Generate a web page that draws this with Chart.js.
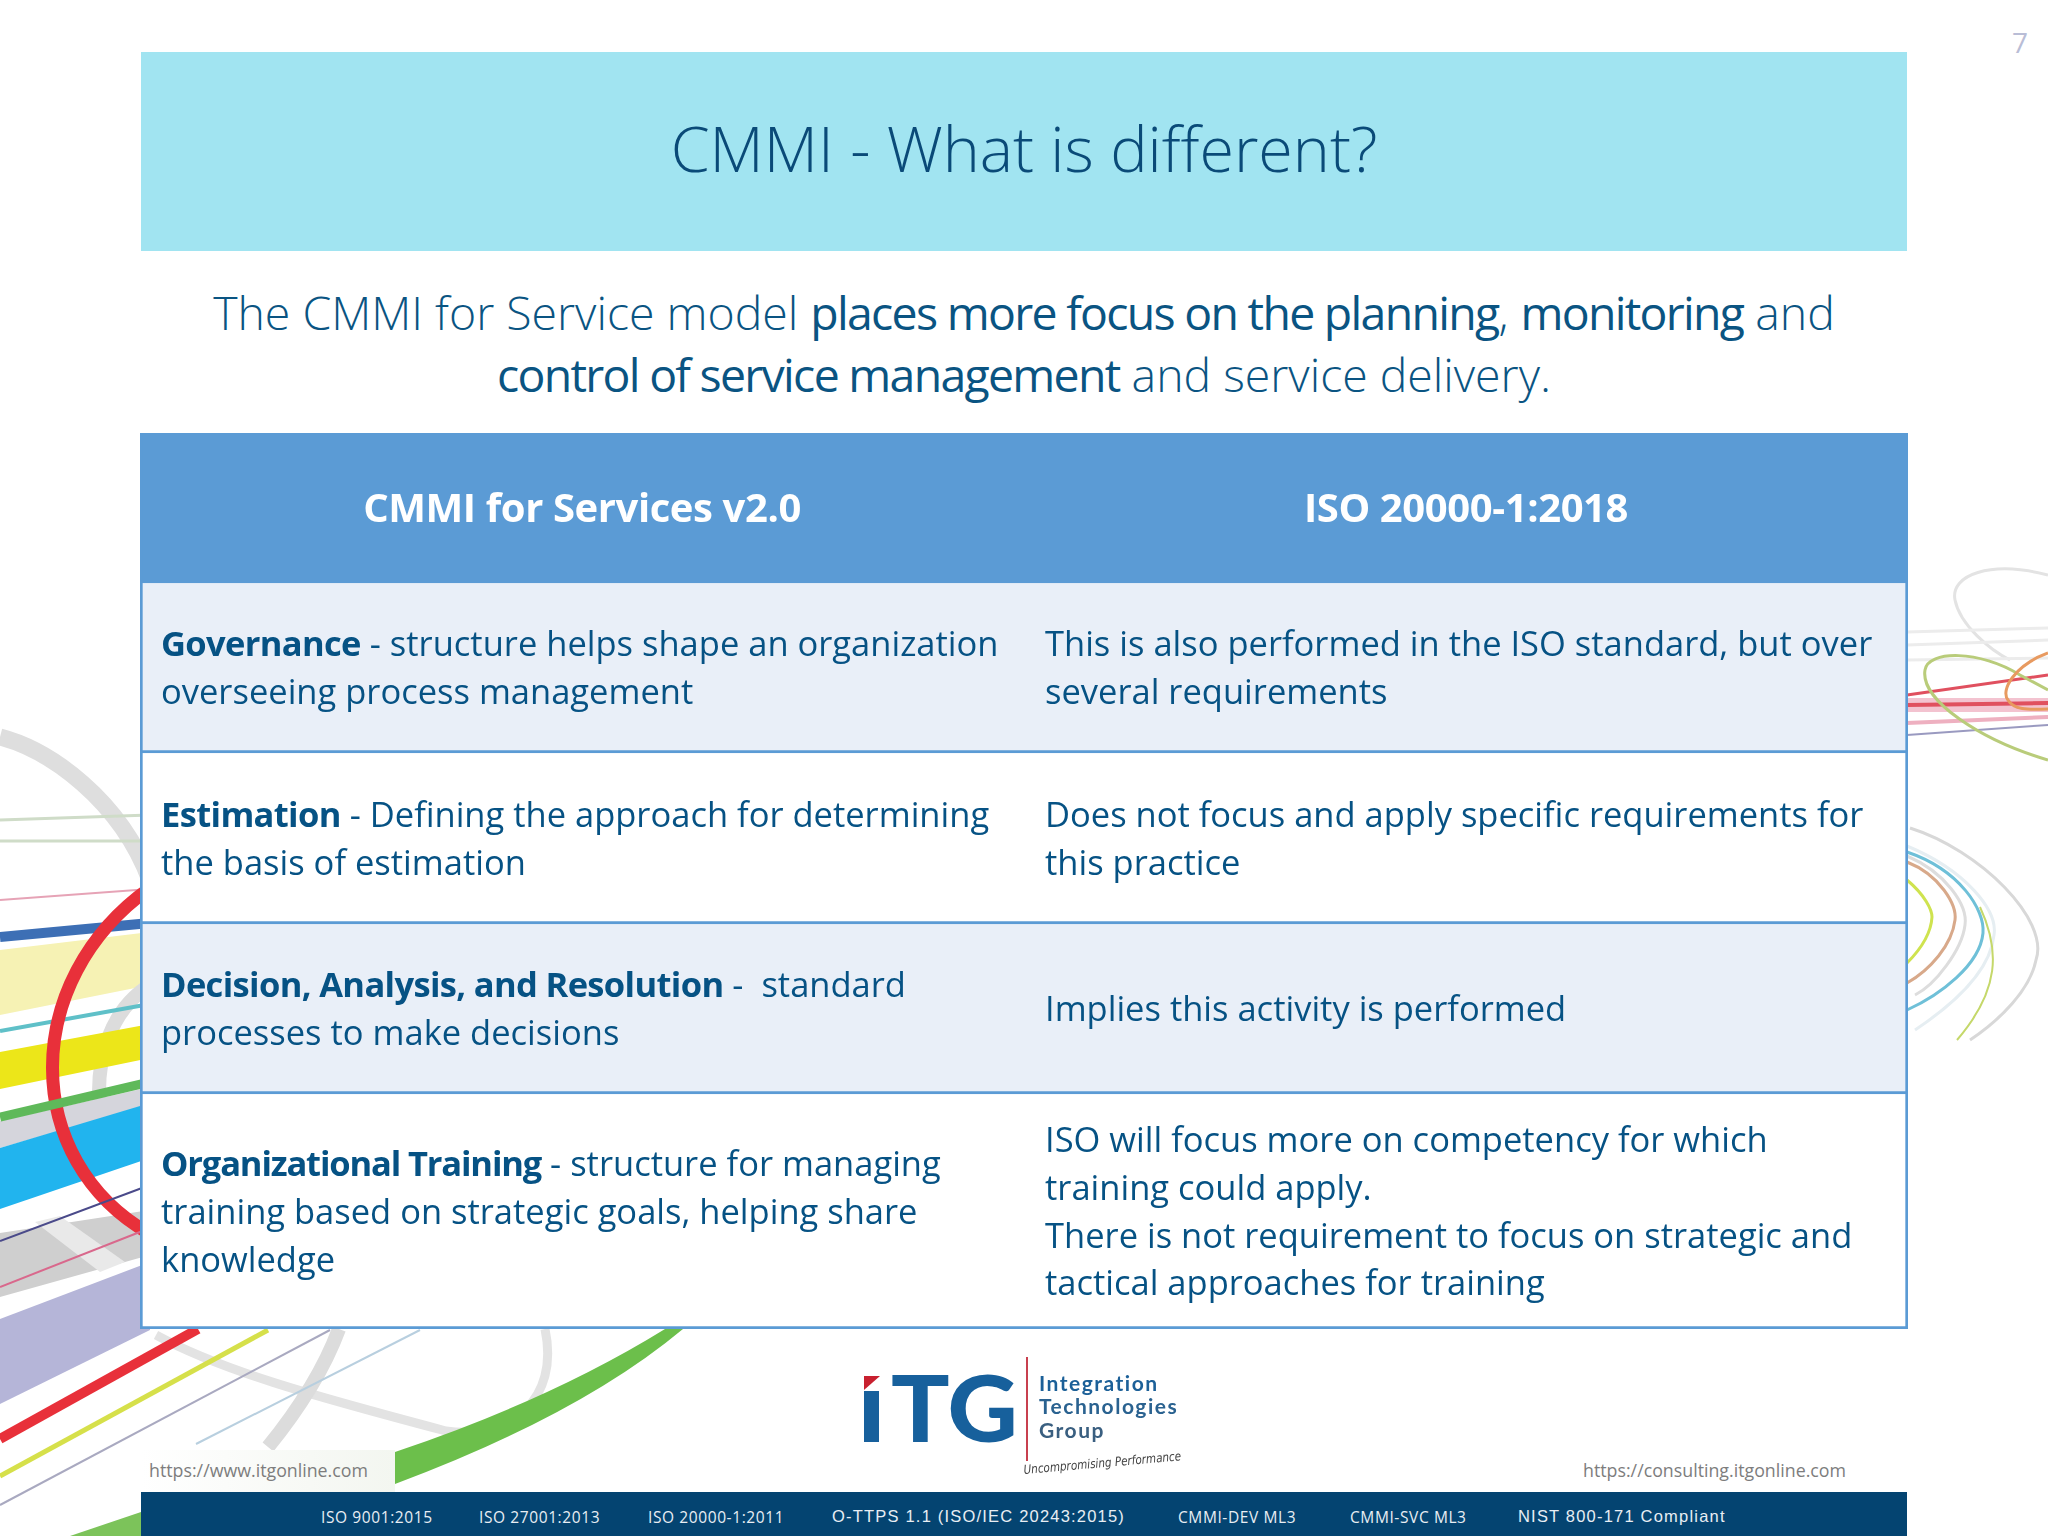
<!DOCTYPE html>
<html>
<head>
<meta charset="utf-8">
<title>CMMI - What is different?</title>
<script src="https://cdn.jsdelivr.net/npm/chart.js@4"></script>
<style>
  html, body { margin: 0; padding: 0; background: #fff; }
  #slide { position: relative; width: 2048px; height: 1536px; overflow: hidden; font-family: "Open Sans", sans-serif; background: #fff; }
  #slide > * { position: absolute; }
  #art { left: 0; top: 0; filter: blur(0.7px); }
  #band { left: 141px; top: 52px; width: 1766px; height: 199px; background: #a1e4f1; }
  #title { left: 141px; width: 1766px; top: 107px; text-align: center; font-size: 62.8px; line-height: 82px; color: #0a4a78; font-weight: 300; }
  #pageno { left: 2012px; top: 23px; font-size: 28px; color: #b9bdd6; }
  .intro { left: 0; width: 2048px; text-align: center; font-size: 46.4px; line-height: 60px; color: #0a5482; font-weight: 300; white-space: nowrap; }
  .intro b { font-weight: 500; letter-spacing: -1.7px; }
  #tableWrap { left: 140px; top: 433px; width: 1768px; height: 896px; }
  .url { top: 1458px; font-size: 17.8px; line-height: 24px; color: #7d7d7d; }
  #footer { left: 141px; top: 1492px; width: 1766px; height: 44px; background: #044471; }
  .cert { top: 1506px; line-height: 22px; color: #e8eef4; white-space: nowrap; font-size: 15.5px; letter-spacing: 0.6px; }
  .cert.wide { font-family: "Liberation Sans", sans-serif; font-size: 16.5px; letter-spacing: 1.2px; top: 1505px; }
</style>
</head>
<body>
<div id="slide">
  <svg id="art" width="2048" height="1536" viewBox="0 0 2048 1536" fill="none">
    <defs>
      <linearGradient id="urlFade" x1="0" x2="1" y1="0" y2="0">
        <stop offset="0" stop-color="#ffffff"/>
        <stop offset="1" stop-color="#f3f6f0"/>
      </linearGradient>
    </defs>
    <!-- left swirl, sits behind the table -->
    <path d="M0 737 C50 750 120 800 150 880" stroke="#dedede" stroke-width="17"/>
    <polygon points="0,950 150,932 150,985 0,1015" fill="#f6f2b4"/>
    <path d="M150 985 C110 1010 95 1060 100 1110" stroke="#dcdcdc" stroke-width="14"/>
    <polygon points="0,1052 150,1024 150,1058 0,1089" fill="#ece619"/>
    <polygon points="0,1121 150,1087 150,1105 0,1148" fill="#d5d5dc"/>
    <polygon points="0,1148 150,1103 150,1158 0,1209" fill="#21b4ee"/>
    <polygon points="0,1233 150,1210 150,1255 0,1297" fill="#cfcfcf"/>
    <polygon points="35,1222 60,1216 125,1262 100,1272" fill="#e9e9e9"/>
    <polygon points="0,1319 150,1262 150,1330 0,1404" fill="#b5b5d8"/>
    <path d="M0 820 L150 815 M0 841 L150 841" stroke="#cfdcc8" stroke-width="3"/>
    <path d="M0 900 L150 889" stroke="#e6a3b6" stroke-width="2"/>
    <path d="M0 1031 L150 1004" stroke="#5fc0c8" stroke-width="4"/>
    <path d="M0 937 L150 923" stroke="#3d6fb5" stroke-width="10"/>
    <path d="M150 888 C20 980 20 1160 150 1234" stroke="#e8303a" stroke-width="13"/>
    <path d="M0 1117 L150 1082" stroke="#5fb95a" stroke-width="9"/>
    <path d="M0 1241 L150 1185" stroke="#4a4a8a" stroke-width="2"/>
    <path d="M0 1287 L150 1228" stroke="#d9688c" stroke-width="2"/>
    <!-- below the table -->
    <path d="M156 1335 C220 1370 310 1395 446 1431 C510 1440 560 1400 545 1329" stroke="#e3e3e3" stroke-width="9"/>
    <path d="M339 1329 C320 1380 290 1420 268 1447" stroke="#dcdcdc" stroke-width="14"/>
    <path d="M0 1439 L198 1329" stroke="#e8303a" stroke-width="10"/>
    <path d="M0 1476 L268 1330" stroke="#d6e04a" stroke-width="5"/>
    <path d="M0 1505 L330 1330" stroke="#a9a9c0" stroke-width="2"/>
    <path d="M196 1444 L420 1330" stroke="#b8cfdf" stroke-width="2"/>
    <rect x="141" y="1450" width="254" height="42" fill="url(#urlFade)"/>
    <path d="M395 1452 Q550 1400 665 1329 L683 1329 Q580 1415 395 1484 Z" fill="#6cbf4b"/>
    <polygon points="70,1536 141,1512 141,1536" fill="#7cc35a"/>
    <!-- right swirl -->
    <path d="M2048 575 C1990 560 1950 575 1955 600 C1960 625 1990 650 2010 660" stroke="#e3e3e3" stroke-width="3"/>
    <path d="M1907 632 L2048 628 M1907 645 L2048 640 M1907 660 L2048 658" stroke="#ececec" stroke-width="3"/>
    <rect x="1907" y="698" width="141" height="14" fill="#f3c3d0"/>
    <path d="M1907 723 L2048 717" stroke="#eeb0c0" stroke-width="4"/>
    <path d="M1907 735 L2048 725" stroke="#9a9ac0" stroke-width="2"/>
    <path d="M1907 695 L2048 675" stroke="#e0505f" stroke-width="3"/>
    <path d="M1907 705 L2048 703" stroke="#e0505f" stroke-width="4"/>
    <path d="M2048 760 C1980 740 1920 700 1925 670 C1928 650 1980 650 2020 675 L2048 690" stroke="#b9cc7a" stroke-width="3"/>
    <path d="M2048 653 C2015 665 2000 690 2008 700 C2015 712 2035 709 2048 709" stroke="#e89a60" stroke-width="3"/>
    <path d="M1910 828 C1980 850 2050 920 2036 960 C2030 990 2000 1020 1970 1040" stroke="#d8d8d8" stroke-width="3"/>
    <path d="M1907 846 C1965 870 1998 910 1994 935 C1990 975 1945 1010 1915 1030" stroke="#e6eef2" stroke-width="3"/>
    <path d="M1907 852 C1960 870 1985 910 1983 933 C1980 965 1940 995 1907 1010" stroke="#6fc0d8" stroke-width="3"/>
    <path d="M1907 856 C1945 872 1968 905 1965 925 C1962 950 1935 985 1915 995" stroke="#dddddd" stroke-width="3"/>
    <path d="M1907 862 C1940 875 1957 905 1955 920 C1952 945 1930 970 1907 983" stroke="#d8a98a" stroke-width="3"/>
    <path d="M1907 880 C1925 895 1932 910 1932 917 C1931 935 1920 950 1907 963" stroke="#cfe34f" stroke-width="3"/>
    <path d="M1980 907 C2000 950 2000 990 1957 1040" stroke="#c5d86a" stroke-width="2"/>
    <!-- logo -->
    <rect x="864" y="1391" width="15" height="51" fill="#17609c"/>
    <polygon points="864,1376 880,1376 864,1390" fill="#c8202f"/>
    <text x="891" y="1442" font-family="Lato, sans-serif" font-weight="900" font-size="92" fill="#17609c" textLength="127" lengthAdjust="spacingAndGlyphs">TG</text>
    <rect x="1026" y="1357" width="2" height="104" fill="#c8404f"/>
    <g font-family="Lato, sans-serif" font-weight="700" font-size="21" letter-spacing="1.5">
      <text x="1039" y="1391" fill="#1c6098">Integration</text>
      <text x="1039" y="1414" fill="#2a6290">Technologies</text>
      <text x="1039" y="1438" fill="#3a5f80">Group</text>
    </g>
    <text transform="translate(1024 1474) rotate(-5)" font-family="DejaVu Sans, sans-serif" font-style="italic" font-size="12.5" fill="#444" textLength="158" lengthAdjust="spacingAndGlyphs">Uncompromising Performance</text>
  </svg>

  <div id="band"></div>
  <div id="title">CMMI - What is different?</div>
  <div id="pageno">7</div>
  <div class="intro" style="top:282px">The CMMI for Service model <b>places more focus on the planning</b>, <b>monitoring</b> and</div>
  <div class="intro" style="top:344px"><b>control of service management</b> and service delivery.</div>

  <div id="tableWrap"><canvas id="tableChart"></canvas></div>

  <div class="url" style="left:149px">https://www.itgonline.com</div>
  <div class="url" style="left:1583px">https://consulting.itgonline.com</div>
  <div id="footer"></div>
  <div class="cert" style="left:321px">ISO 9001:2015</div>
  <div class="cert" style="left:479px">ISO 27001:2013</div>
  <div class="cert" style="left:648px">ISO 20000-1:2011</div>
  <div class="cert wide" style="left:832px">O-TTPS 1.1 (ISO/IEC 20243:2015)</div>
  <div class="cert" style="left:1178px">CMMI-DEV ML3</div>
  <div class="cert" style="left:1350px">CMMI-SVC ML3</div>
  <div class="cert wide" style="left:1518px">NIST 800-171 Compliant</div>
</div>

<script>
const columns = ["CMMI for Services v2.0", "ISO 20000-1:2018"];
const rowNames = ["Header", "Governance", "Estimation", "Decision, Analysis, and Resolution", "Organizational Training"];
const rowHeights = [150, 170, 171, 170, 235];
const rowColors = ["#5b9bd5", "#e9eff8", "#ffffff", "#e9eff8", "#ffffff"];
const rowLines = "#5b9bd5";

// first line of a left cell is lead (bold) + rest
const leftLeads = ["Governance", "Estimation", "Decision, Analysis, and Resolution", "Organizational Training"];
const leadTracking = ["-0.65px", "-0.65px", "-0.65px", "-1.15px"];
const leftLines = [
  [" - structure helps shape an organization", "overseeing process management"],
  [" - Defining the approach for determining", "the basis of estimation"],
  [" -  standard", "processes to make decisions"],
  [" - structure for managing", "training based on strategic goals, helping share", "knowledge"]
];
const rightLines = [
  ["This is also performed in the ISO standard, but over", "several requirements"],
  ["Does not focus and apply specific requirements for", "this practice"],
  ["Implies this activity is performed"],
  ["ISO will focus more on competency for which", "training could apply.", "There is not requirement to focus on strategic and", "tactical approaches for training"]
];

const textColor = "#065284";
const cellFont = '34.5px "Open Sans"';
const leadFont = '700 34.5px "Open Sans"';
const headFont = '700 40px "Open Sans"';
const lineStep = 47.7;
const cellPad = 21;

const cellText = {
  id: "cellText",
  afterDatasetsDraw(chart) {
    const ctx = chart.ctx;
    ctx.save();
    ctx.textBaseline = "middle";

    // header
    const head = chart.getDatasetMeta(0).data;
    ctx.font = headFont;
    ctx.letterSpacing = "-0.4px";
    ctx.fillStyle = "#fff";
    ctx.textAlign = "center";
    columns.forEach((c, i) => {
      ctx.fillText(c, head[i].x, (head[i].y + head[i].base) / 2 + 3);
    });

    // body rows
    ctx.textAlign = "left";
    ctx.fillStyle = textColor;
    leftLeads.forEach((lead, r) => {
      const bars = chart.getDatasetMeta(r + 1).data;
      const midY = (bars[0].y + bars[0].base) / 2 + 2.5;

      const leftX = bars[0].x - bars[0].width / 2 + cellPad;
      let y = midY - (leftLines[r].length - 1) * lineStep / 2;
      leftLines[r].forEach((line, i) => {
        let x = leftX;
        if (i === 0) {
          ctx.font = leadFont;
          ctx.letterSpacing = leadTracking[r];
          ctx.fillText(lead, x, y);
          x += ctx.measureText(lead).width;
        }
        ctx.font = cellFont;
        ctx.letterSpacing = "0px";
        ctx.fillText(line, x, y);
        y += lineStep;
      });

      const rightX = bars[1].x - bars[1].width / 2 + cellPad;
      y = midY - (rightLines[r].length - 1) * lineStep / 2;
      ctx.font = cellFont;
      rightLines[r].forEach(line => {
        ctx.fillText(line, rightX, y);
        y += lineStep;
      });
    });
    ctx.restore();
  }
};

document.fonts.load(cellFont).then(() => document.fonts.load(leadFont)).finally(() => {
  new Chart(document.getElementById("tableChart"), {
    type: "bar",
    data: {
      labels: columns,
      datasets: rowNames.map((name, r) => ({
        label: name,
        data: columns.map(() => rowHeights[r]),
        backgroundColor: rowColors[r],
        borderColor: rowLines,
        borderSkipped: false,
        // no line between the two columns, only the outer edges and row rules
        borderWidth: ctx => ({
          top: 0,
          bottom: 3,
          left: ctx.dataIndex === 0 ? 3 : 0,
          right: ctx.dataIndex === 1 ? 3 : 0
        })
      }))
    },
    options: {
      responsive: true,
      maintainAspectRatio: false,
      animation: false,
      layout: { padding: 0 },
      plugins: { legend: { display: false }, tooltip: { enabled: false } },
      datasets: { bar: { barPercentage: 1, categoryPercentage: 1 } },
      scales: {
        x: { stacked: true, display: false },
        y: { stacked: true, display: false, reverse: true, min: 0, max: rowHeights.reduce((a, b) => a + b, 0) }
      }
    },
    plugins: [cellText]
  });
});
</script>
</body>
</html>
